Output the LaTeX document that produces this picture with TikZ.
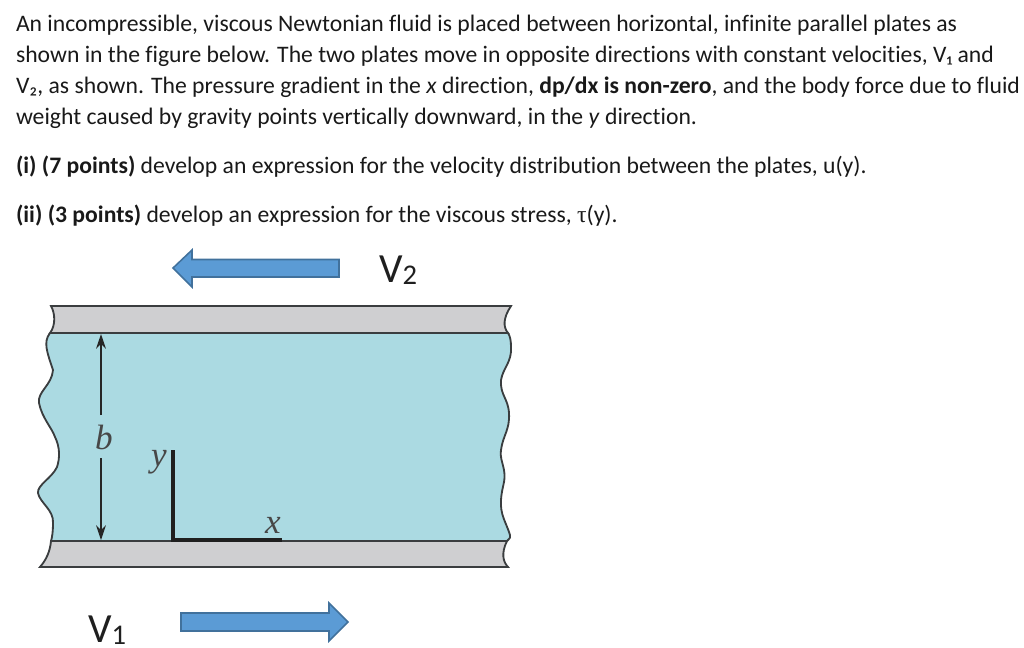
\documentclass[tikz,border=0pt]{standalone}
\usepackage{fontspec}
\usetikzlibrary{arrows.meta}
\setmainfont{Carlito}[Ligatures=NoCommon]
\newfontfamily\taufont{Liberation Serif}
\newfontfamily\labelfont{Liberation Serif}
\tikzset{>={Stealth[length=10.5pt,width=7pt]}}
\tikzstyle{every node}=[align=left,inner sep=0pt,outer sep=0pt]
\tikzstyle{textline}=[anchor=base west,font=\fontsize{16.83pt}{20pt}\selectfont,text=black!90]
\tikzstyle{velocity}=[anchor=base west,font=\fontsize{29.5pt}{32pt}\selectfont,text=black!88]
\tikzstyle{axislabel}=[font=\labelfont\itshape\fontsize{25pt}{28pt}\selectfont,text=black!72]
\tikzstyle{blockarrow}=[draw=arrowedge,fill=arrowblue,line width=1.1pt]
\tikzstyle{plate}=[draw=edgedark,fill=plategray,line width=1.3pt]
\tikzstyle{wavyedge}=[draw=edgedark,line width=1.3pt]
\definecolor{arrowblue}{HTML}{5B9BD5}
\definecolor{arrowedge}{HTML}{41719C}
\definecolor{plategray}{HTML}{CFCFD1}
\definecolor{fluidblue}{HTML}{ABDAE2}
\definecolor{edgedark}{HTML}{3A3D3F}
\newcommand{\velsub}[1]{\raisebox{-2.1pt}{\fontsize{20.3pt}{22pt}\selectfont #1}}
\begin{document}
\begin{tikzpicture}[x=0.025cm,y=-0.025cm]
\useasboundingbox (0,0) rectangle (1024,647);

\node[textline] (line one) at (16,31) {An incompressible, viscous Newtonian fluid is placed between horizontal, infinite parallel plates as};
\node[textline] (line two) at (16,62) {shown in the figure below. The two plates move in opposite directions with constant velocities, V₁ and};
\node[textline] (line three) at (16,93) {V₂, as shown. The pressure gradient in the \textit{x} direction, \textbf{dp/dx is non-zero}, and the body force due to fluid};
\node[textline] (line four) at (16,124) {weight caused by gravity points vertically downward, in the \textit{y} direction.};
\node[textline] (part one) at (16,173) {\textbf{(i) (7 points)} develop an expression for the velocity distribution between the plates, u(y).};
\node[textline] (part two) at (16,222) {\textbf{(ii) (3 points)} develop an expression for the viscous stress, {\taufont τ}(y).};

% fluid and plates
\fill[fluidblue] (50,333) .. controls (43,342) and (47,352) .. (53,370) .. controls (52,385) and (37,392) .. (39,403) .. controls (42,418) and (52,428) .. (55,437) .. controls (60,447) and (60,458) .. (57,467) .. controls (52,478) and (37,485) .. (38,493) .. controls (40,503) and (54,510) .. (53,523) .. controls (53,532) and (52,538) .. (51,541)
  -- (507,541) .. controls (510,537) and (511,535) .. (510,535) .. controls (506,522) and (500,515) .. (501,500) .. controls (502,485) and (506,482) .. (504,470) .. controls (502,460) and (500,458) .. (501,450) .. controls (503,435) and (510,430) .. (509,413) .. controls (508,398) and (500,395) .. (501,380) .. controls (503,368) and (512,362) .. (511,347) .. controls (511,340) and (510,336) .. (508,333) -- cycle;
\draw[wavyedge] (50,333) .. controls (43,342) and (47,352) .. (53,370) .. controls (52,385) and (37,392) .. (39,403) .. controls (42,418) and (52,428) .. (55,437) .. controls (60,447) and (60,458) .. (57,467) .. controls (52,478) and (37,485) .. (38,493) .. controls (40,503) and (54,510) .. (53,523) .. controls (53,532) and (52,538) .. (51,541);
\draw[wavyedge] (508,333) .. controls (510,336) and (511,340) .. (511,347) .. controls (512,362) and (503,368) .. (501,380) .. controls (500,395) and (508,398) .. (509,413) .. controls (510,430) and (503,435) .. (501,450) .. controls (500,458) and (502,460) .. (504,470) .. controls (506,482) and (502,485) .. (501,500) .. controls (500,515) and (506,522) .. (510,535) .. controls (511,537) and (510,538) .. (507,541);
\draw[plate] (51,306) .. controls (55,313) and (56,325) .. (50,333) -- (508,333) .. controls (503,327) and (503,318) .. (511,306) -- cycle;
\draw[plate] (51,541) .. controls (50,552) and (46,560) .. (40,567) -- (508,567) .. controls (503,562) and (501,553) .. (507,541) -- cycle;

% gap between the plates
\coordinate (plate top) at (101,334);
\coordinate (plate bottom) at (101,540);
\coordinate (gap upper) at (101,415);
\coordinate (gap lower) at (101,458);
\node[axislabel] (gap) at (104,437) {b};
\draw[->,line width=0.8pt,black!85] (gap upper) to (plate top);
\draw[->,line width=0.8pt,black!85] (gap lower) to (plate bottom);

% axes
\node[axislabel] (y label) at (159,462) {y};
\node[axislabel] (x label) at (273,525) {x};
\coordinate (origin) at (173,540);
\coordinate (y end) at (173,450);
\coordinate (x end) at (282,540);
\draw[line width=2.3pt,black!88] (y end) -- (origin) -- (x end);

% plate velocities
\draw[blockarrow] (339,259.5) -- (192,259.5) -- (192,250) -- (173,268) -- (192,287) -- (192,277) -- (339,277) -- cycle;
\node[velocity] (v two) at (379,282) {V\velsub{2}};
\draw[blockarrow] (181,613) -- (329,613) -- (329,603) -- (348,622) -- (329,641) -- (329,631) -- (181,631) -- cycle;
\node[velocity] (v one) at (88,642) {V\velsub{1}};
\end{tikzpicture}
\end{document}
